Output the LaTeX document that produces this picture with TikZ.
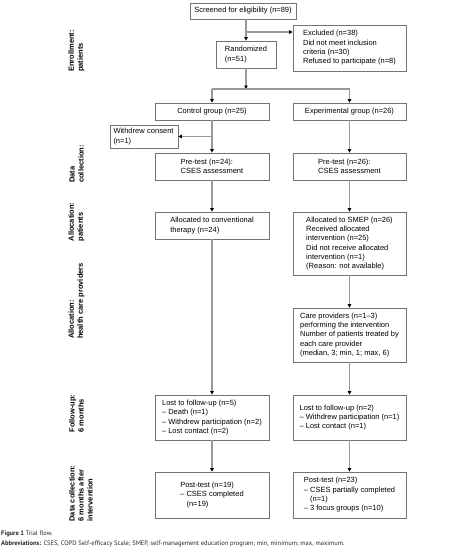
\documentclass[tikz,border=0pt]{standalone}
\usepackage{fontspec}
\setmainfont{Liberation Sans}
\newfontfamily\capfont{PT Sans}
\usetikzlibrary{arrows.meta}
\begin{document}
\begin{tikzpicture}[x=1pt,y=-1pt,
  box/.style={draw=black!55,line width=0.7pt,align=left,inner sep=0pt,
    font=\fontsize{7.5}{9.3}\selectfont},
  lbl/.style={rotate=90,align=left,inner sep=0pt,
    font=\fontsize{7.5}{9}\selectfont\bfseries},
  conn/.style={draw=black!40,line width=1.1pt},
  arr/.style={conn,-{Triangle[length=3.5pt,width=3.5pt,color=black]}},
  captext/.style={anchor=west,inner sep=0pt,text=black!85,font=\capfont\fontsize{6.5}{7.5}\selectfont}]
\useasboundingbox (0,0) rectangle (474,550);
% boxes
\node[box,minimum width=106pt,minimum height=16pt] (screen) at (243,11) {Screened for eligibility (n=89)};
\node[box,minimum width=113pt,minimum height=46pt] (excl) at (349.5,48) {Excluded (n=38)\\Did not meet inclusion\\criteria (n=30)\\Refused to participate (n=8)};
\node[box,minimum width=60pt,minimum height=27pt] (rand) at (246,54.5) {Randomized\\(n=51)};
\node[box,minimum width=114pt,minimum height=17pt] (ctrl) at (212,111.5) {Control group (n=25)};
\node[box,minimum width=113pt,minimum height=17pt] (exp) at (349.5,111.5) {Experimental group (n=26)};
\node[box,minimum width=68pt,minimum height=23pt,text width=61pt] (wd) at (144,136.5) {Withdrew consent\\(n=1)};
\node[box,minimum width=114pt,minimum height=27pt] (pre1) at (212,166.5) {Pre-test (n=24):\\CSES assessment};
\node[box,minimum width=113pt,minimum height=27pt] (pre2) at (349.5,166.5) {Pre-test (n=26):\\CSES assessment};
\node[box,minimum width=114pt,minimum height=27pt] (al1) at (212,225.5) {Allocated to conventional\\therapy (n=24)};
\node[box,minimum width=113pt,minimum height=63pt] (al2) at (349.5,243.5) {Allocated to SMEP (n=26)\\Received allocated\\intervention (n=25)\\Did not receive allocated\\intervention (n=1)\\(Reason: not available)};
\node[box,minimum width=113pt,minimum height=54pt] (care) at (349.5,335) {Care providers (n=1--3)\\performing the intervention\\Number of patients treated by\\each care provider\\(median, 3; min, 1; max, 6)};
\node[box,minimum width=114pt,minimum height=45pt] (lost1) at (212,417.5) {Lost to follow-up (n=5)\\-- Death (n=1)\\-- Withdrew participation (n=2)\\-- Lost contact (n=2)};
\node[box,minimum width=113pt,minimum height=45pt] (lost2) at (349.5,417.5) {Lost to follow-up (n=2)\\-- Withdrew participation (n=1)\\-- Lost contact (n=1)};
\node[box,minimum width=114pt,minimum height=46pt] (post1) at (212,495) {Post-test (n=19)\\-- CSES completed\\\phantom{-- }(n=19)};
\node[box,minimum width=113pt,minimum height=46pt] (post2) at (349.5,495) {Post-test (n=23)\\-- CSES partially completed\\\phantom{-- }(n=1)\\-- 3 focus groups (n=10)};
% side labels
\node[lbl] (l1) at (76.5,51) {Enrollment:\\patients};
\node[lbl] (l2) at (76.5,164) {Data\\collection:};
\node[lbl] (l3) at (76.5,222) {Allocation:\\patients};
\node[lbl] (l4) at (76.5,301) {Allocation:\\health care providers};
\node[lbl] (l5) at (76.5,413.5) {Follow-up:\\6 months};
\node[lbl] (l6) at (81,493.5) {Data collection:\\6 months after\\intervention};
% caption
\node[captext] (c1) at (1,534) {\textbf{Figure 1} Trial flow.};
\node[captext] (c2) at (1,543.5) {\textbf{Abbreviations:} CSES, COPD Self-efficacy Scale; SMEP, self-management education program; min, minimum; max, maximum.};
% connectors
\coordinate (b1) at (246,32);
\coordinate (split) at (246,89);
\draw[arr] (rand.north |- screen.south) -- (rand.north);
\draw[arr] (b1) -- (b1 -| excl.west);
\draw[arr] (rand.south) -- (split);
\draw[conn] (split -| ctrl.north) -- (split -| exp.north);
\draw[arr] (split -| ctrl.north) -- (ctrl.north);
\draw[arr] (split -| exp.north) -- (exp.north);
\draw[arr] (ctrl.south) -- (pre1.north);
\draw[arr] (ctrl.south |- wd.east) -- (wd.east);
\draw[arr] (exp.south) -- (pre2.north);
\draw[arr] (pre1.south) -- (al1.north);
\draw[arr] (pre2.south) -- (al2.north);
\draw[arr] (al1.south) -- (lost1.north);
\draw[arr] (al2.south) -- (care.north);
\draw[arr] (care.south) -- (lost2.north);
\draw[arr] (lost1.south) -- (post1.north);
\draw[arr] (lost2.south) -- (post2.north);
\end{tikzpicture}
\end{document}
